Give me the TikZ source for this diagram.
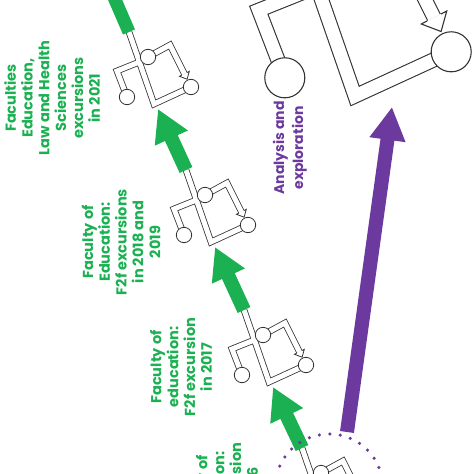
\documentclass[tikz,border=0pt]{standalone}
\usepackage{fontspec}
\setmainfont{Poppins}
\usepackage{tikz}
\usetikzlibrary{arrows.meta}
\definecolor{exgreen}{RGB}{27,177,82}
\definecolor{expurple}{RGB}{108,58,158}
\tikzstyle{iconline} = [draw=black!80, line width=0.8pt]
\tikzstyle{icondbl} = [iconline, double=white, double distance=5pt]
\tikzstyle{garrow} = [draw=exgreen, line width=14pt, -{Triangle[width=34pt,length=32pt]}]
\tikzstyle{parrow} = [draw=expurple, line width=14pt, -{Triangle[width=34pt,length=33pt]}]
\tikzstyle{gtext} = [text=exgreen, font=\bfseries\fontsize{14.5}{16.8}\selectfont, align=center, rotate=90]
\tikzstyle{ptext} = [gtext, text=expurple, font=\bfseries\fontsize{14}{19}\selectfont]
\tikzset{
  loopicon/.pic={
    \coordinate (-d) at (0,0);
    \coordinate (-base) at (-25,-72);
    \coordinate (-tip) at (4,5);
    \draw[icondbl] (-base) -- (-d) -- (37,-17)
      (-6,-47) -- (16,-59) -- (30.4,-30.2)
      (-14.6,-42) -- (-37,-33) -- (-27,-7);
    \filldraw[iconline, fill=white] (-6,-47) circle (7.7) (37,-17) circle (7.7) (-27,-7) circle (7.7);
    \fill[white] (33.0,-31.5) -- (35.3,-32.7) -- (33.1,-24.8) -- (25.5,-27.7) -- (27.8,-28.9) -- cycle;
    \draw[iconline] (33.0,-31.5) -- (35.3,-32.7) -- (33.1,-24.8) -- (25.5,-27.7) -- (27.8,-28.9);
  }
}
\begin{document}
\begin{tikzpicture}[x=1pt, y=-1pt]

\useasboundingbox (0,0) rectangle (474,474);
\clip (0,0) rectangle (474,474);


%%% %%%
% Cycles
%%% %%%


\foreach \x/\y [count=\n] in {154/104, 211/242, 269/382, 327/520}
\pic (ic\n) at (\x,\y) {loopicon};

\pic[scale=2.6, iconline/.style={draw=black!80, line width=1.1pt}, icondbl/.append style={double distance=13pt}] (big) at (355,96) {loopicon};


%%% %%%
% Arrows
%%% %%%


\coordinate (gtop) at (113,-5);
\draw[draw=exgreen, line width=13pt] (gtop) -- (ic1-base);

\foreach \a/\b in {2/1, 3/2, 4/3}
\draw[garrow] (ic\a-base) -- (ic\b-tip);

\node[draw=expurple, circle, minimum size=108pt, inner sep=0pt, line width=3.5pt, line cap=round, dash pattern=on 0pt off 10.5pt] (focus) at (329,488) {};

\coordinate (pbase) at (347,432);
\coordinate (ptip) at (392,107);
\draw[parrow] (pbase) -- (ptip);


%%% %%%
% Labels
%%% %%%


\node[gtext] (t2021) at (52,98) {Faculties\\Education,\\Law and Health\\Sciences\\excursions\\in 2021};
\node[gtext] (t2018) at (121,242) {Faculty of\\Education:\\F2f excursions\\in 2018 and\\2019};
\node[gtext] (t2017) at (181,367) {Faculty of\\education:\\F2f excursion\\in 2017};
\node[gtext] (t2016) at (227,492) {Faculty of\\education:\\F2f excursion\\in 2016};

\node[ptext] (analysis) at (290,148) {Analysis and\\exploration};

\end{tikzpicture}
\end{document}
